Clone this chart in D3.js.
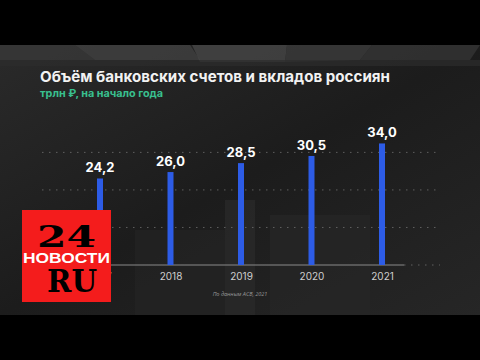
<!DOCTYPE html>
<html><head><meta charset="utf-8">
<script src="https://cdn.jsdelivr.net/npm/d3@7"></script>
<style>html,body{margin:0;padding:0;background:#000;}svg{display:block;}</style>
</head><body>
<svg id="c" width="480" height="360"></svg>
<script>
const title = "Объём банковских счетов и вкладов россиян";
const subtitle = "трлн ₽, на начало года";
const source = "По данным АСВ, 2021";
const years = ["2017", "2018", "2019", "2020", "2021"];
const values = [24.2, 26.0, 28.5, 30.5, 34.0];
const valueLabels = ["24,2", "26,0", "28,5", "30,5", "34,0"];
const gridValues = [10.5, 21, 31.5];

const svg = d3.select("#c");
svg.append("rect").attr("width",480).attr("height",360).attr("fill","#000");
const defs = svg.append("defs");
const g1 = defs.append("linearGradient").attr("id","bg").attr("x1",0).attr("y1",0).attr("x2",1).attr("y2",1);
g1.append("stop").attr("offset","0%").attr("stop-color","#2a2a2a");
g1.append("stop").attr("offset","50%").attr("stop-color","#1c1c1c");
g1.append("stop").attr("offset","100%").attr("stop-color","#262626");
svg.append("rect").attr("x",0).attr("y",45).attr("width",480).attr("height",270).attr("fill","url(#bg)");
const shapes = [
  {p:"0,45 75,45 95,60 0,60", f:"#3a3a3a"},
  {p:"75,45 190,45 200,60 95,60", f:"#444"},
  {p:"192,45 287,45 285,62 200,62", f:"#4b4b4b"},
  {p:"287,45 372,45 360,60 285,62", f:"#3e3e3e"},
  {p:"372,45 480,45 470,60 360,60", f:"#383838"},
  {p:"0,60 480,60 480,66 0,66", f:"#2c2c2c"},
  {p:"135,230 225,230 225,315 135,315", f:"#232323"},
  {p:"225,200 255,200 255,315 225,315", f:"#2b2b2b"},
  {p:"270,215 370,215 370,315 270,315", f:"#262626"},
];
svg.append("g").selectAll("polygon").data(shapes).join("polygon")
  .attr("points",d=>d.p).attr("fill",d=>d.f).attr("opacity",0.7);

const x = d3.scalePoint().domain(years).range([100, 382]);
const y = d3.scaleLinear().domain([0, 40]).range([265, 122]);

svg.append("g").selectAll("line").data(gridValues).join("line")
  .attr("x1",42).attr("x2",440).attr("y1",d=>y(d)).attr("y2",d=>y(d))
  .attr("stroke","#8a8a8a").attr("stroke-width",1).attr("stroke-dasharray","1.5,5.5").attr("opacity",0.6);
svg.append("line").attr("x1",42).attr("x2",404).attr("y1",y(0)).attr("y2",y(0))
  .attr("stroke","#8a8a8a").attr("stroke-width",1);
svg.append("line").attr("x1",404).attr("x2",440).attr("y1",y(0)).attr("y2",y(0))
  .attr("stroke","#8a8a8a").attr("stroke-width",1).attr("stroke-dasharray","1.5,5.5").attr("opacity",0.6);

svg.append("g").selectAll("rect").data(values).join("rect")
  .attr("x",(d,i)=>x(years[i])-3).attr("width",6)
  .attr("y",d=>y(d)).attr("height",d=>y(0)-y(d))
  .attr("fill","#2d5ce6");

svg.append("g").selectAll("text").data(values).join("text")
  .attr("x",(d,i)=>x(years[i])).attr("y",d=>y(d)-6)
  .attr("text-anchor","middle").attr("fill","#fff")
  .attr("font-family","Inter, 'Open Sans', sans-serif").attr("font-weight",700).attr("font-size",13)
  .text((d,i)=>valueLabels[i]);

const xAxis = d3.axisBottom(x).tickSize(0).tickPadding(0);
const ax = svg.append("g").attr("transform",`translate(0,${y(0)+8})`).call(xAxis);
ax.select(".domain").remove();
ax.selectAll("text").attr("fill","#cfcfcf").attr("font-family","Inter, 'Open Sans', sans-serif").attr("font-size",10).attr("dy","0.71em");

svg.append("text").attr("x",40).attr("y",82).attr("fill","#f2f2f2")
  .attr("font-family","Inter, 'Open Sans', sans-serif").attr("font-weight",700).attr("font-size",15)
  .attr("textLength",350).attr("lengthAdjust","spacingAndGlyphs")
  .text(title);
svg.append("text").attr("x",40).attr("y",97).attr("fill","#39c08f")
  .attr("font-family","Inter, 'Open Sans', sans-serif").attr("font-weight",700).attr("font-size",10)
  .attr("textLength",123).attr("lengthAdjust","spacingAndGlyphs")
  .text(subtitle);
svg.append("text").attr("x",240).attr("y",296).attr("text-anchor","middle").attr("fill","#9a9a9a")
  .attr("font-family","'Open Sans', sans-serif").attr("font-style","italic").attr("font-size",5.5)
  .text(source);

const logo = svg.append("g");
logo.append("rect").attr("x",22).attr("y",210).attr("width",89).attr("height",92).attr("fill","#f41c1c");
logo.append("text").attr("x",37).attr("y",247).attr("fill","#000")
  .attr("font-family","'DejaVu Serif', 'Liberation Serif', serif").attr("font-weight",700).attr("font-size",30)
  .attr("textLength",59).attr("lengthAdjust","spacingAndGlyphs")
  .text("24");
logo.append("text").attr("x",23).attr("y",263).attr("fill","#fff")
  .attr("font-family","'Liberation Sans', Arial, sans-serif").attr("font-weight",700).attr("font-size",15)
  .attr("textLength",87).attr("lengthAdjust","spacingAndGlyphs")
  .text("НОВОСТИ");
logo.append("text").attr("x",47).attr("y",292).attr("fill","#000")
  .attr("font-family","'DejaVu Serif', 'Liberation Serif', serif").attr("font-weight",700).attr("font-size",32)
  .attr("textLength",50).attr("lengthAdjust","spacingAndGlyphs")
  .text("RU");
</script>
</body></html>
